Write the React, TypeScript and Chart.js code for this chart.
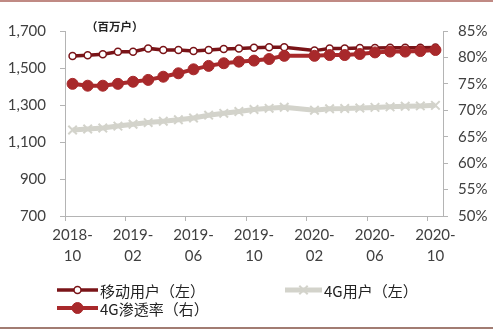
import { useEffect, useRef } from 'react';
import { Chart, registerables } from 'chart.js';

Chart.register(...registerables);

// Monthly series, 2018-10 .. 2020-10 (2020-01 not reported)
const months = [
  '2018-10', '2018-11', '2018-12', '2019-01', '2019-02', '2019-03', '2019-04',
  '2019-05', '2019-06', '2019-07', '2019-08', '2019-09', '2019-10', '2019-11',
  '2019-12', '2020-01', '2020-02', '2020-03', '2020-04', '2020-05', '2020-06',
  '2020-07', '2020-08', '2020-09', '2020-10',
];

// 移动用户（百万户）
const mobileUsers = [
  1565, 1569, 1574, 1588, 1588, 1606, 1597, 1597, 1592, 1597, 1603, 1606,
  1610, 1612, 1612, null, 1594, 1605, 1606, 1608, 1608, 1609, 1610, 1610, 1611,
];

// 4G用户（百万户）
const users4G = [
  1165, 1170, 1176, 1186, 1196, 1205, 1212, 1220, 1230, 1245, 1255, 1265,
  1276, 1282, 1288, null, 1272, 1280, 1281, 1284, 1287, 1290, 1293, 1295, 1298,
];

// 4G渗透率（%）
const penetration4G = [
  75.0, 74.65, 74.65, 75.0, 75.4, 75.75, 76.35, 77.0, 77.75, 78.4, 78.9, 79.2,
  79.4, 79.7, 80.3, null, 80.3, 80.45, 80.45, 80.65, 80.95, 81.1, 81.1, 81.2, 81.4,
];

const leftTickValues = [700, 900, 1100, 1300, 1500, 1700];
const rightTickValues = [50, 55, 60, 65, 70, 75, 80, 85];
const labelEvery = 4;

const seriesNames = ['移动用户（左）', '4G用户（左）', '4G渗透率（右）'];
const unitLabel = '（百万户）';

const MAROON = '#7a1418';
const RED = '#a8292b';
const GREY = '#d3d3cb';
const AXIS = '#b4b4b4';
const TEXT = '#404040';
const tickFont = { family: 'Lato, "Open Sans", sans-serif', size: 15 };

// Legend rows: marker line start/end, row centre
const legendSlots = [
  { x0: 57, x1: 98, y: 290 },
  { x0: 285, x1: 322, y: 290 },
  { x0: 57, x1: 98, y: 308 },
];

function drawMarker(ctx: CanvasRenderingContext2D, ds: any, x: number, y: number) {
  const r = ds.pointRadius;
  ctx.lineWidth = ds.pointBorderWidth;
  ctx.strokeStyle = ds.pointBorderColor;
  ctx.fillStyle = ds.pointBackgroundColor;
  if (ds.pointStyle === 'crossRot') {
    ctx.beginPath();
    ctx.moveTo(x - r * 0.7, y - r * 0.7);
    ctx.lineTo(x + r * 0.7, y + r * 0.7);
    ctx.moveTo(x + r * 0.7, y - r * 0.7);
    ctx.lineTo(x - r * 0.7, y + r * 0.7);
    ctx.stroke();
  } else {
    ctx.beginPath();
    ctx.arc(x, y, r, 0, Math.PI * 2);
    ctx.fill();
    ctx.stroke();
  }
}

const decorPlugin = {
  id: 'decor',
  afterDraw(chart: any) {
    const { ctx } = chart;
    ctx.save();
    // rules above and below the figure
    ctx.lineWidth = 2;
    ctx.strokeStyle = '#c08a84';
    ctx.beginPath();
    ctx.moveTo(0, 1);
    ctx.lineTo(493, 1);
    ctx.stroke();
    ctx.strokeStyle = '#a27c72';
    ctx.beginPath();
    ctx.moveTo(0, 328);
    ctx.lineTo(493, 328);
    ctx.stroke();

    // unit caption
    ctx.font = 'bold 11.5px "Noto Sans CJK SC"';
    ctx.fillStyle = '#222';
    ctx.textBaseline = 'middle';
    ctx.textAlign = 'left';
    ctx.fillText(unitLabel, 86, 27);

    // legend
    chart.data.datasets.forEach((ds: any, i: number) => {
      const s = legendSlots[i];
      ctx.lineWidth = ds.borderWidth;
      ctx.strokeStyle = ds.borderColor;
      ctx.beginPath();
      ctx.moveTo(s.x0, s.y);
      ctx.lineTo(s.x1, s.y);
      ctx.stroke();
      drawMarker(ctx, ds, (s.x0 + s.x1) / 2, s.y);
      ctx.font = '15px "Noto Sans CJK SC"';
      ctx.fillStyle = '#222';
      ctx.textBaseline = 'middle';
      ctx.fillText(ds.label, s.x1 + 2, s.y + 1);
    });
    ctx.restore();
  },
};

export default function App() {
  const canvasRef = useRef<HTMLCanvasElement | null>(null);

  useEffect(() => {
    if (!canvasRef.current) return;
    const chart = new Chart(canvasRef.current, {
      type: 'line',
      data: {
        labels: months,
        datasets: [
          {
            label: seriesNames[0],
            data: mobileUsers,
            yAxisID: 'y',
            borderColor: MAROON,
            borderWidth: 3.5,
            pointStyle: 'circle',
            pointRadius: 3.5,
            pointBorderWidth: 1.5,
            pointBorderColor: MAROON,
            pointBackgroundColor: '#ffffff',
            spanGaps: true,
            order: 1,
          },
          {
            label: seriesNames[1],
            data: users4G,
            yAxisID: 'y',
            borderColor: GREY,
            borderWidth: 5,
            pointStyle: 'crossRot',
            pointRadius: 6,
            pointBorderWidth: 2,
            pointBorderColor: GREY,
            pointBackgroundColor: GREY,
            spanGaps: true,
            order: 2,
          },
          {
            label: seriesNames[2],
            data: penetration4G,
            yAxisID: 'y1',
            borderColor: RED,
            borderWidth: 4,
            pointStyle: 'circle',
            pointRadius: 5.5,
            pointBorderWidth: 1,
            pointBorderColor: RED,
            pointBackgroundColor: RED,
            spanGaps: true,
            order: 0,
          },
        ],
      },
      options: {
        responsive: false,
        animation: false,
        events: [],
        layout: { padding: { top: 31, bottom: 65, left: 0, right: 0 } },
        elements: { line: { tension: 0 } },
        plugins: { legend: { display: false }, tooltip: { enabled: false } },
        scales: {
          x: {
            type: 'category',
            offset: true,
            afterFit: (s: any) => { s.height = 50; },
            border: { display: true, color: AXIS, width: 1 },
            grid: {
              offset: true,
              drawOnChartArea: false,
              drawTicks: true,
              tickLength: 5,
              color: (c: any) => (c.index !== undefined && c.index % labelEvery === 0 ? AXIS : 'rgba(0,0,0,0)'),
            },
            ticks: {
              autoSkip: false,
              maxRotation: 0,
              minRotation: 0,
              padding: 3.5,
              color: TEXT,
              font: { ...tickFont, lineHeight: 1.4 },
              callback: (_v: any, i: number) =>
                i % labelEvery === 0 ? [months[i].slice(0, 5), months[i].slice(5)] : '',
            },
          },
          y: {
            position: 'left',
            min: 700,
            max: 1700,
            afterBuildTicks: (s: any) => { s.ticks = leftTickValues.map((value) => ({ value })); },
            afterFit: (s: any) => { s.width = 65; },
            border: { display: true, color: AXIS, width: 1 },
            grid: { drawOnChartArea: false, drawTicks: true, tickLength: 5, color: AXIS },
            ticks: {
              padding: 14,
              color: TEXT,
              font: tickFont,
              callback: (v: any) => Number(v).toLocaleString('en-US'),
            },
          },
          y1: {
            position: 'right',
            min: 50,
            max: 85,
            afterBuildTicks: (s: any) => { s.ticks = rightTickValues.map((value) => ({ value })); },
            afterFit: (s: any) => { s.width = 57; },
            border: { display: true, color: AXIS, width: 1 },
            grid: { drawOnChartArea: false, drawTicks: true, tickLength: 5, color: AXIS },
            ticks: {
              padding: 10,
              color: TEXT,
              font: tickFont,
              callback: (v: any) => `${v}%`,
            },
          },
        },
      },
      plugins: [decorPlugin],
    });
    return () => chart.destroy();
  }, []);

  return (
    <div style={{ position: 'fixed', left: 0, top: 0, width: 500, height: 331, background: '#ffffff' }}>
      <canvas ref={canvasRef} width={500} height={331} style={{ display: 'block' }} />
    </div>
  );
}
